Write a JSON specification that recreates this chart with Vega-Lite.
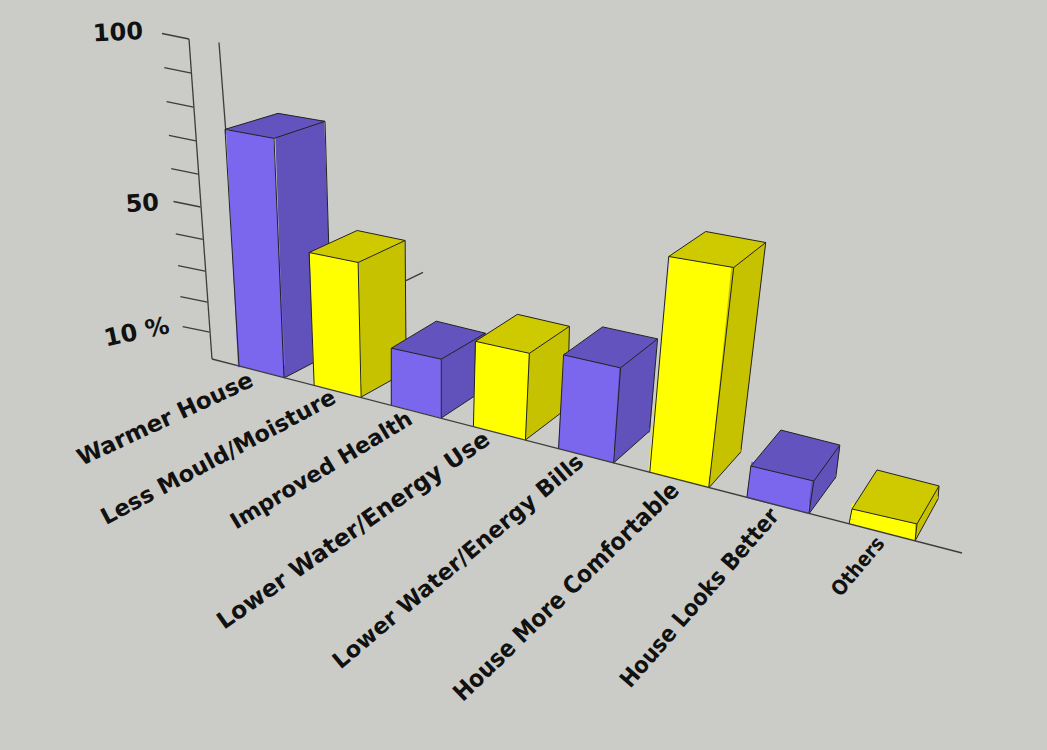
{
  "$schema": "https://vega.github.io/schema/vega-lite/v6.json",
  "width": 1047,
  "height": 750,
  "autosize": "none",
  "padding": 0,
  "background": "#cbccc8",
  "config": {"view": {"stroke": null}},
  "params": [
    {"name": "cats", "value": ["Warmer House", "Less Mould/Moisture", "Improved Health", "Lower Water/Energy Use", "Lower Water/Energy Bills", "House More Comfortable", "House Looks Better", "Others"]},
    {"name": "drop", "value": [7, 26, 46, 67, 90, 114, 139, 165]},
    {"name": "ftlx", "value": [-14, -17, -22, -25, -24, -6, -11, 3]},
    {"name": "ftrx", "value": [35, 32, 28, 29, 33, 59, 52, 68]},
    {"name": "btrx", "value": [86, 79, 72, 69, 70, 91, 78, 90]},
    {"name": "fblx", "value": [0, -12, -22, -27, -29, -25, -15, 0]},
    {"name": "fbrx", "value": [45, 35, 28, 25, 26, 34, 47, 66]},
    {"name": "bbrx", "value": [93, 80, 72, 67, 62, 66, 74, 89]},
    {"name": "ftry", "value": [16, 36, 57, 79, 103, 125, 154, 180]},
    {"name": "fbry", "value": [19, 38, 59, 81, 104, 129, 155, 182]},
    {"name": "btry", "value": [-1, 14, 31, 52, 74, 100, 118, 142]},
    {"name": "bbry", "value": [-6, 13, 30, 49, 72, 93, 118, 140]},
    {"name": "topPath", "value": ["M0,0L49,9L100,-8L53,-16Z", "M0,0L49,10L96,-12L48,-22Z", "M0,0L50,11L94,-15L45,-27Z", "M0,0L54,12L94,-15L42,-27Z", "M0,0L57,13L94,-16L39,-28Z", "M0,0L65,11L97,-14L37,-25Z", "M0,0L63,15L89,-21L30,-36Z", "M0,0L65,15L87,-23L25,-39Z"]},
    {"name": "frontFoot", "value": ["M0,0L45,12L45,-4L0,-4Z", "M0,0L47,12L47,-4L0,-4Z", "M0,0L50,13L50,-4L0,-4Z", "M0,0L52,14L52,-4L0,-4Z", "M0,0L55,14L55,-4L0,-4Z", "M0,0L59,15L59,-4L0,-4Z", "M0,0L62,16L62,-4L0,-4Z", "M0,0L66,17L66,-4L0,-4Z"]},
    {"name": "sideFoot", "value": ["M45,12L93,-13L93,-16L45,-16Z", "M47,12L92,-13L92,-16L47,-16Z", "M50,13L94,-16L94,-19L50,-19Z", "M52,14L94,-18L94,-21L52,-21Z", "M55,14L91,-18L91,-21L55,-21Z", "M59,15L91,-21L91,-24L59,-24Z", "M62,16L89,-21L89,-24L62,-24Z", "M66,17L89,-25L89,-28L66,-28Z"]},
    {"name": "labelDx", "value": [13, 8, -3, -13, -7, 1, 13, 32]},
    {"name": "labelDy", "value": [20, 37, 58, 78, 100, 128, 153, 181]},
    {"name": "labelAngle", "value": [-25, -28, -31, -35, -40, -44, -49, -50]},
    {"name": "labelSize", "value": [23, 22.5, 22, 23.5, 22.5, 24, 23, 20.5]},
    {"name": "labelFont", "value": ["DejaVu Sans", "DejaVu Sans", "DejaVu Sans", "DejaVu Sans", "DejaVu Sans", "DejaVu Sans Condensed", "DejaVu Sans Condensed", "DejaVu Sans Condensed"]}
  ],
  "datasets": {
    "bars": [
      {"rank": 0, "category": "Warmer House", "value": 75.5, "tone": "purple"},
      {"rank": 1, "category": "Less Mould/Moisture", "value": 44, "tone": "yellow"},
      {"rank": 2, "category": "Improved Health", "value": 20, "tone": "purple"},
      {"rank": 3, "category": "Lower Water/Energy Use", "value": 29, "tone": "yellow"},
      {"rank": 4, "category": "Lower Water/Energy Bills", "value": 32, "tone": "purple"},
      {"rank": 5, "category": "House More Comfortable", "value": 69.5, "tone": "yellow"},
      {"rank": 6, "category": "House Looks Better", "value": 11.7, "tone": "purple"},
      {"rank": 7, "category": "Others", "value": 5.8, "tone": "yellow"}
    ],
    "ticks": [
      {"tick": 10, "label": "10 %"},
      {"tick": 20, "label": ""},
      {"tick": 30, "label": ""},
      {"tick": 40, "label": ""},
      {"tick": 50, "label": "50"},
      {"tick": 60, "label": ""},
      {"tick": 70, "label": ""},
      {"tick": 80, "label": ""},
      {"tick": 90, "label": ""},
      {"tick": 100, "label": "100"}
    ],
    "guides": [
      {"guide": "axis", "from": 100, "to": 0},
      {"guide": "wall", "from": 99, "to": 72},
      {"guide": "stub", "from": 27, "to": 29.6},
      {"guide": "floor", "from": 0, "to": 0}
    ]
  },
  "data": {"name": "bars"},
  "encoding": {
    "x": {"field": "category", "type": "nominal", "axis": null, "scale": {"type": "point", "padding": 0, "domain": {"expr": "cats"}, "range": [239, 849]}},
    "y": {"field": "value", "type": "quantitative", "axis": null, "scale": {"type": "pow", "exponent": 1.074, "domain": [0, 100], "range": [359, 39]}}
  },
  "layer": [
    {
      "data": {"name": "guides"},
      "transform": [{"filter": "datum.guide!='floor'"}],
      "mark": {
        "type": "rule", "color": "#3c3c3c", "strokeWidth": 1.3,
        "xOffset": {"expr": "datum.guide=='axis'?-50:datum.guide=='wall'?-20:167"},
        "x2Offset": {"expr": "datum.guide=='axis'?-27:datum.guide=='wall'?-13:184"}
      },
      "encoding": {"x": {"datum": "Warmer House"}, "x2": {"datum": "Warmer House"}, "y": {"field": "from", "type": "quantitative"}, "y2": {"field": "to"}}
    },
    {
      "data": {"name": "ticks"},
      "mark": {"type": "rule", "color": "#3c3c3c", "strokeWidth": 1.3, "xOffset": {"expr": "-54-0.23*datum.tick"}, "x2Offset": {"expr": "-27-0.23*datum.tick"}, "yOffset": -5.5},
      "encoding": {"x": {"datum": "Warmer House"}, "x2": {"datum": "Warmer House"}, "y": {"field": "tick", "type": "quantitative"}, "y2": {"field": "tick"}}
    },
    {
      "data": {"name": "ticks"},
      "mark": {
        "type": "text", "font": "DejaVu Sans", "fontWeight": "bold", "fontSize": 24, "color": "#111111", "align": "right", "baseline": "middle",
        "angle": {"expr": "datum.tick==100?-3:datum.tick==50?-4:-12"},
        "xOffset": {"expr": "datum.tick==100?-96:datum.tick==50?-80:-70"},
        "yOffset": {"expr": "datum.tick==100?-7:datum.tick==50?-4:-6"}
      },
      "encoding": {"x": {"datum": "Warmer House"}, "y": {"field": "tick", "type": "quantitative"}, "text": {"field": "label"}}
    },
    {
      "mark": {
        "type": "rule",
        "xOffset": {"expr": "(ftrx[datum.rank]+btrx[datum.rank])/2"},
        "x2Offset": {"expr": "(fbrx[datum.rank]+bbrx[datum.rank])/2"},
        "yOffset": {"expr": "btry[datum.rank]"},
        "y2Offset": {"expr": "bbry[datum.rank]"},
        "strokeWidth": {"expr": "(btrx[datum.rank]-ftrx[datum.rank]+bbrx[datum.rank]-fbrx[datum.rank])/2"}
      },
      "encoding": {
        "x2": {"field": "category"},
        "y2": {"datum": 0},
        "stroke": {"condition": {"test": "datum.tone=='purple'", "value": "#6151ba"}, "value": "#c6c200"}
      }
    },
    {
      "mark": {
        "type": "rule", "color": "#222222", "strokeWidth": 1,
        "xOffset": {"expr": "btrx[datum.rank]"},
        "x2Offset": {"expr": "bbrx[datum.rank]"},
        "yOffset": {"expr": "btry[datum.rank]"},
        "y2Offset": {"expr": "bbry[datum.rank]"}
      },
      "encoding": {"x2": {"field": "category"}, "y2": {"datum": 0}}
    },
    {
      "mark": {"type": "point", "filled": true, "opacity": 1, "size": 4, "shape": {"expr": "sideFoot[datum.rank]"}, "xOffset": {"expr": "fblx[datum.rank]"}, "yOffset": {"expr": "drop[datum.rank]"}},
      "encoding": {
        "y": {"datum": 0},
        "fill": {"condition": {"test": "datum.tone=='purple'", "value": "#6151ba"}, "value": "#c6c200"}
      }
    },
    {
      "mark": {
        "type": "rule", "color": "#222222", "strokeWidth": 1,
        "xOffset": {"expr": "fbrx[datum.rank]"},
        "x2Offset": {"expr": "bbrx[datum.rank]"},
        "yOffset": {"expr": "fbry[datum.rank]"},
        "y2Offset": {"expr": "bbry[datum.rank]"}
      },
      "encoding": {"x2": {"field": "category"}, "y": {"datum": 0}, "y2": {"datum": 0}}
    },
    {
      "mark": {
        "type": "rule",
        "xOffset": {"expr": "(ftlx[datum.rank]+ftrx[datum.rank])/2"},
        "x2Offset": {"expr": "(fblx[datum.rank]+fbrx[datum.rank])/2"},
        "yOffset": {"expr": "drop[datum.rank]"},
        "y2Offset": {"expr": "drop[datum.rank]"},
        "strokeWidth": {"expr": "(ftrx[datum.rank]-ftlx[datum.rank]+fbrx[datum.rank]-fblx[datum.rank])/2"}
      },
      "encoding": {
        "x2": {"field": "category"},
        "y2": {"datum": 0},
        "stroke": {"condition": {"test": "datum.tone=='purple'", "value": "#7b66ee"}, "value": "#ffff00"}
      }
    },
    {
      "mark": {"type": "point", "filled": true, "opacity": 1, "size": 4, "shape": {"expr": "frontFoot[datum.rank]"}, "xOffset": {"expr": "fblx[datum.rank]"}, "yOffset": {"expr": "drop[datum.rank]"}},
      "encoding": {
        "y": {"datum": 0},
        "fill": {"condition": {"test": "datum.tone=='purple'", "value": "#7b66ee"}, "value": "#ffff00"}
      }
    },
    {
      "mark": {
        "type": "rule", "color": "#222222", "strokeWidth": 1,
        "xOffset": {"expr": "ftlx[datum.rank]"},
        "x2Offset": {"expr": "fblx[datum.rank]"},
        "yOffset": {"expr": "drop[datum.rank]"},
        "y2Offset": {"expr": "drop[datum.rank]"}
      },
      "encoding": {"x2": {"field": "category"}, "y2": {"datum": 0}}
    },
    {
      "mark": {
        "type": "rule", "color": "#222222", "strokeWidth": 1,
        "xOffset": {"expr": "ftrx[datum.rank]"},
        "x2Offset": {"expr": "fbrx[datum.rank]"},
        "yOffset": {"expr": "ftry[datum.rank]"},
        "y2Offset": {"expr": "fbry[datum.rank]"}
      },
      "encoding": {"x2": {"field": "category"}, "y2": {"datum": 0}}
    },
    {
      "mark": {"type": "point", "filled": true, "opacity": 1, "size": 4, "stroke": "#222222", "strokeWidth": 1, "shape": {"expr": "topPath[datum.rank]"}, "xOffset": {"expr": "ftlx[datum.rank]"}, "yOffset": {"expr": "drop[datum.rank]"}},
      "encoding": {
        "fill": {"condition": {"test": "datum.tone=='purple'", "value": "#6353be"}, "value": "#cfca00"}
      }
    },
    {
      "data": {"name": "guides"},
      "transform": [{"filter": "datum.guide=='floor'"}],
      "mark": {"type": "rule", "color": "#3c3c3c", "strokeWidth": 1.3, "xOffset": -27, "x2Offset": 113, "y2Offset": 194},
      "encoding": {"x": {"datum": "Warmer House"}, "x2": {"datum": "Others"}, "y": {"field": "from", "type": "quantitative"}, "y2": {"field": "to"}}
    },
    {
      "mark": {
        "type": "text", "fontWeight": "bold", "color": "#111111", "align": "right", "baseline": "middle",
        "font": {"expr": "labelFont[datum.rank]"},
        "fontSize": {"expr": "labelSize[datum.rank]"},
        "angle": {"expr": "labelAngle[datum.rank]"},
        "xOffset": {"expr": "labelDx[datum.rank]"},
        "yOffset": {"expr": "labelDy[datum.rank]"}
      },
      "encoding": {"y": {"datum": 0}, "text": {"field": "category"}}
    }
  ]
}
